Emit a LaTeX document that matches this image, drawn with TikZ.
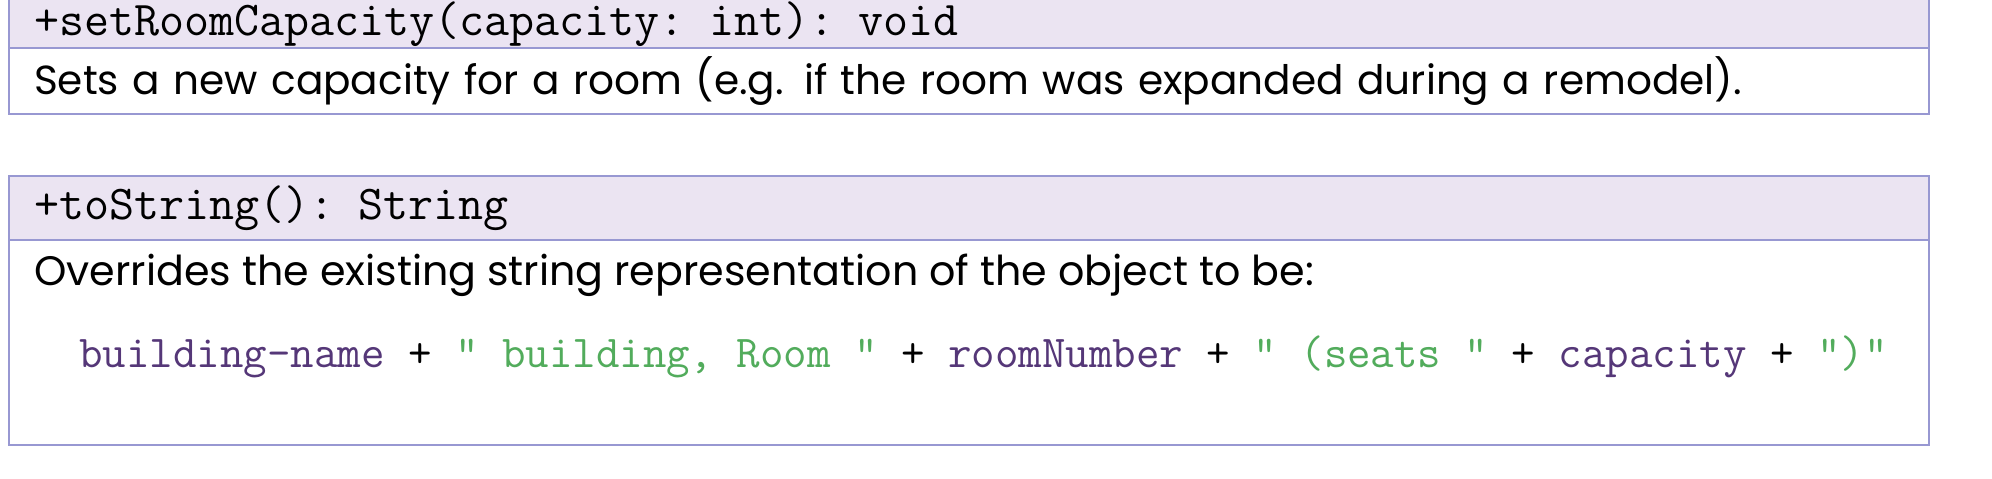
\documentclass[tikz,border=0pt]{standalone}
\usepackage{fontspec}
\usepackage{tikz}
\usetikzlibrary{positioning}
\setmainfont{Poppins}

\definecolor{headfill}{RGB}{235,228,242}
\definecolor{boxline}{RGB}{152,152,210}
\definecolor{codevar}{RGB}{85,55,120}
\definecolor{codestr}{RGB}{82,172,92}

\begin{document}
\begin{tikzpicture}
[
    x=1pt, y=1pt,
    head/.style={draw=boxline, fill=headfill, line width=1pt, outer sep=0pt,
        minimum width=960.15pt, minimum height=32.15pt, anchor=north west,
        text width=934.85pt, inner xsep=12.65pt, align=left,
        font=\ttfamily\fontsize{24.3pt}{28pt}\selectfont},
    body/.style={draw=boxline, fill=white, line width=1pt, outer sep=0pt,
        minimum width=960.15pt, text width=934.85pt, inner xsep=12.65pt, align=left,
        font=\fontsize{20.3pt}{24pt}\selectfont},
    desc/.style={inner sep=0pt, anchor=west, font=\fontsize{20.6pt}{24pt}\selectfont},
    code/.style={inner sep=0pt, anchor=west,
        font=\ttfamily\fontsize{22.8pt}{26pt}\selectfont},
]
\useasboundingbox (0,0) rectangle (996,239);
\begin{scope}
\clip (0,0) rectangle (996,239);
\node [head, minimum height=0pt, inner ysep=0pt, text height=18.9pt, text depth=6pt]
    (setHead) at (4.35,240) {+setRoomCapacity(capacity: int): void};
\node [body, minimum height=33pt, below=0pt of setHead] (setBody)
{Sets a new capacity for a room (e.g. if the room was expanded during a remodel).};
\end{scope}
\node [head] (strHead) at (4.35,151.15) {+toString(): String};
\node [body, minimum height=102.35pt, below=0pt of strHead] (strBody) {};
\node [desc] (strDesc) at ([xshift=12.65pt, yshift=-17.5pt]strBody.north west)
{Overrides the existing string representation of the object to be:};
\node [code] (strCode) at ([xshift=35.15pt, yshift=-58.5pt]strBody.north west)
{{\color{codevar}building-name} + {\color{codestr}" building, Room "} + {\color{codevar}roomNumber} + {\color{codestr}" (seats "} + {\color{codevar}capacity} + {\color{codestr}")"}};
\end{tikzpicture}
\end{document}
